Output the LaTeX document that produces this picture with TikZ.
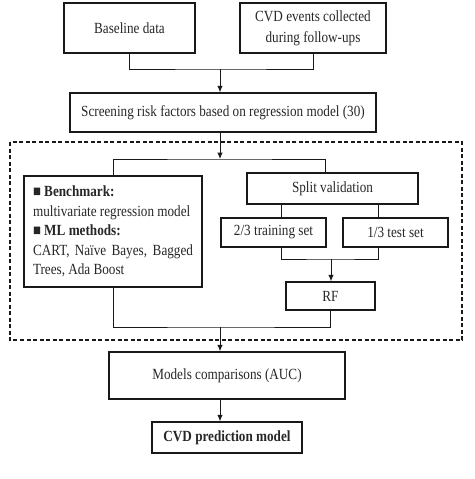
\documentclass[tikz,border=0pt]{standalone}
\usepackage{fontspec}
\setmainfont{Liberation Serif}[FakeStretch=0.85]
\usetikzlibrary{arrows.meta}
\begin{document}
\begin{tikzpicture}[x=1pt,y=-1pt,font=\fontsize{15.5}{21}\selectfont,
  box/.style={draw=black!90,line width=1.3pt,align=center,inner sep=0pt,text=black!85},
  link/.style={draw=black!90,line width=1pt},
  arrow/.style={link,-{Latex[length=6.5pt,width=5.5pt]}}]
\useasboundingbox (0,0) rectangle (474,479);

\draw[black!90,line width=1.2pt,dash pattern=on 4pt off 2.5pt] (10,142) rectangle (462,340);

\node[box,minimum width=131pt,minimum height=50pt] (base) at (129.5,28) {Baseline data};
\node[box,minimum width=146pt,minimum height=50pt] (events) at (313,28) {CVD events collected\\during follow-ups};
\node[box,minimum width=306pt,minimum height=39pt] (screen) at (223,112.5) {Screening risk factors based on regression model (30)};

\node[box,minimum width=178pt,minimum height=111pt,text width=160pt,align=justify,
  font=\fontsize{15.5}{19.5}\selectfont] (bench) at (113,231.5)
  {\textbf{■ Benchmark:}\\ multivariate regression model\\ \textbf{■ ML methods:}\\ CART, Naïve Bayes, Bagged Trees, Ada Boost};
\node[box,minimum width=171pt,minimum height=31pt] (split) at (332.5,188.5) {Split validation};
\node[box,minimum width=105pt,minimum height=29pt] (train) at (273.5,232.5) {2/3 training set};
\node[box,minimum width=105pt,minimum height=29pt] (test) at (395.5,232.5) {1/3 test set};
\node[box,minimum width=89pt,minimum height=28pt] (rf) at (330.5,296) {RF};

\node[box,minimum width=236pt,minimum height=47pt] (models) at (227,375.5) {Models comparisons (AUC)};
\node[box,minimum width=150pt,minimum height=31pt,font=\fontsize{15.5}{21}\selectfont\bfseries] (pred) at (227,437.5) {CVD prediction model};

\coordinate (j1) at (220,69);
\coordinate (j2) at (220,159);
\coordinate (j3) at (331,259);
\coordinate (j4) at (220,327);

\draw[link] (base.south) |- (j1) -| (events.south);
\draw[arrow] (j1) -- (j1 |- screen.north);
\draw[arrow] (j2 |- screen.south) -- (j2);
\draw[link] (bench.north) |- (j2) -| ([xshift=-7.5pt]split.north);
\draw[link] ([xshift=7.5pt]train.north) -- ([xshift=7.5pt]train.north |- split.south);
\draw[link] ([xshift=-17.5pt]test.north) -- ([xshift=-17.5pt]test.north |- split.south);
\draw[link] ([xshift=7.5pt]train.south) |- (j3) -| ([xshift=-17.5pt]test.south);
\draw[arrow] (j3) -- (j3 |- rf.north);
\draw[link] (bench.south) |- (j4) -| (rf.south);
\draw[arrow] (j4) -- (j4 |- models.north);
\draw[arrow] (j4 |- models.south) -- (j4 |- pred.north);

\end{tikzpicture}
\end{document}
